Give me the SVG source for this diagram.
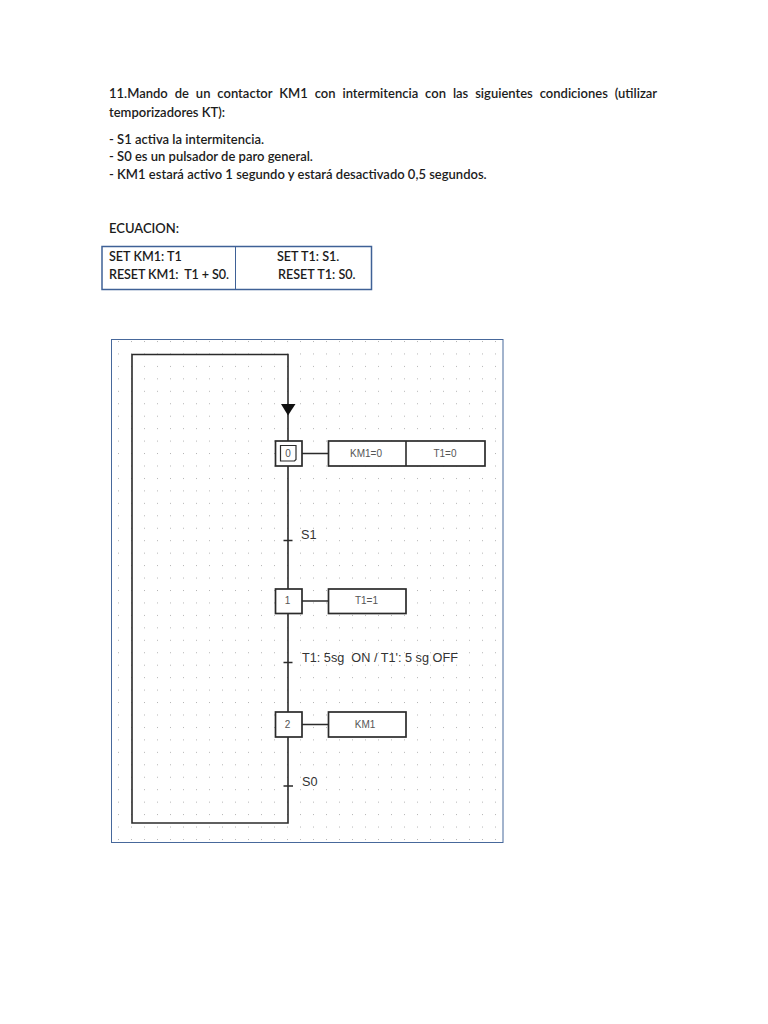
<svg xmlns="http://www.w3.org/2000/svg" width="768" height="1024" viewBox="0 0 768 1024">
<style>
.t{font-family:Lato,"Liberation Sans",sans-serif;font-size:13px;font-weight:600;fill:#1c1c1c}
.e{font-size:12.6px}
.s{fill:#fff;stroke:#2b2b2b;stroke-width:1.7}
.c{fill:none;stroke:#2b2b2b;stroke-width:1.6}
.n{font-family:"Liberation Sans",Arial,sans-serif;font-size:10px;fill:#555;text-anchor:middle}
.l{font-family:"Liberation Sans",Arial,sans-serif;font-size:12.7px;fill:#333}
</style>
<defs>
<pattern id="grid" x="118" y="341" width="13" height="12.45" patternUnits="userSpaceOnUse"><rect x="0" y="0" width="1" height="1" fill="#b4b4b4"/></pattern>
</defs>
<rect width="768" height="1024" fill="#fff"/>
<g id="statement">
<text class="t" x="109" y="98" style="word-spacing:3.7px">11.Mando de un contactor KM1 con intermitencia con las siguientes condiciones (utilizar</text>
<text class="t" x="109" y="117">temporizadores KT):</text>
<text class="t" x="109" y="144">- S1 activa la intermitencia.</text>
<text class="t" x="109" y="161">- S0 es un pulsador de paro general.</text>
<text class="t" x="109" y="179">- KM1 estará activo 1 segundo y estará desactivado 0,5 segundos.</text>
<text class="t" x="109" y="233">ECUACION:</text>
</g>
<g id="equation-table">
<rect x="102" y="246.500" width="269.500" height="43" fill="#fff" stroke="#3f6196" stroke-width="1.500"/>
<line x1="235.500" y1="246.500" x2="235.500" y2="289.500" stroke="#3f6196" stroke-width="1"/>
<text class="t e" x="109" y="261">SET KM1: T1</text>
<text class="t e" x="109" y="279" style="white-space:pre" textLength="120">RESET KM1:  T1 + S0.</text>
<text class="t e" x="277" y="261">SET T1: S1.</text>
<text class="t e" x="278" y="279">RESET T1: S0.</text>
</g>
<g id="grafcet-frame">
<rect x="111.500" y="339.500" width="391.500" height="503" fill="#fff" stroke="#47689b" stroke-width="1"/>
<rect x="112" y="340" width="390.500" height="502" fill="url(#grid)"/>
</g>
<g id="connectors">
<path class="c" d="M288 441V354.500H132V823H288V737"/>
<path class="c" d="M288 466V589M288 613.500V712"/>
<path class="c" d="M302 453.500H328.500M302 601H328.500M302 724.500H328.500"/>
<path class="c" d="M283.500 540.500H292.500M283.500 662.500H292.500M283.500 786H293"/>
<polygon points="281,404 295.500,404 288,415.500" fill="#111"/>
</g>
<g id="step-0">
<rect class="s" x="275.500" y="441" width="26.500" height="25"/>
<path d="M280.500 445.500H296V459.500L294.500 461H280.500Z" fill="#fff" stroke="#2b2b2b" stroke-width="1.200"/>
<text class="n" x="288" y="457">0</text>
</g>
<g id="step-1">
<rect class="s" x="275.500" y="589" width="26.500" height="24.500"/>
<text class="n" x="287.500" y="604">1</text>
</g>
<g id="step-2">
<rect class="s" x="275.500" y="712" width="26.500" height="25"/>
<text class="n" x="287.500" y="727.500">2</text>
</g>
<g id="action-0">
<rect class="s" x="328.500" y="441" width="156.500" height="25"/>
<line class="c" x1="406" y1="441" x2="406" y2="466"/>
<text class="n" x="366" y="456.500">KM1=0</text>
<text class="n" x="445" y="456.500">T1=0</text>
</g>
<g id="action-1">
<rect class="s" x="328.500" y="589" width="77.500" height="24.500"/>
<text class="n" x="366.500" y="604">T1=1</text>
</g>
<g id="action-2">
<rect class="s" x="328.500" y="712" width="77.500" height="25"/>
<text class="n" x="365" y="727.500">KM1</text>
</g>
<g id="transition-labels">
<text class="l" x="301" y="539">S1</text>
<text class="l" x="302" y="662" style="white-space:pre">T1: 5sg  ON / T1': 5 sg OFF</text>
<text class="l" x="302" y="786">S0</text>
</g>
</svg>
